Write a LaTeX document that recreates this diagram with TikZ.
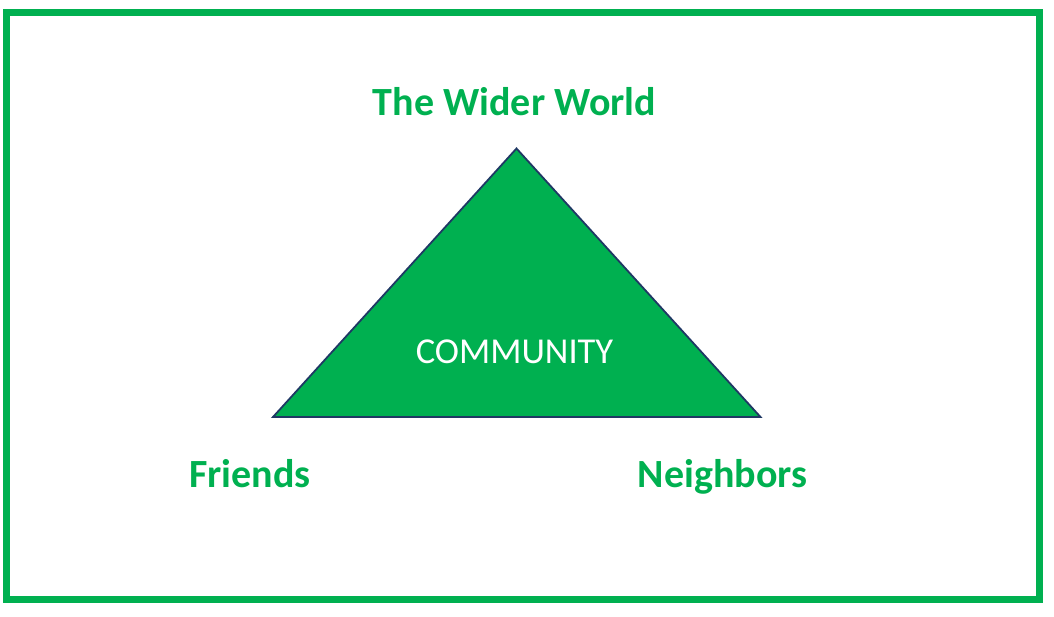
\documentclass[tikz,border=0pt]{standalone}
\usepackage{fontspec}
\setmainfont{Carlito}
\usetikzlibrary{positioning}
\definecolor{leafgreen}{HTML}{00B050}
\definecolor{edgenavy}{HTML}{1F3864}
\begin{document}
\begin{tikzpicture}[x=1pt,y=-1pt]
% --- Layout & Styles --------------------------------------
\tikzstyle{corner label}=[inner sep=0, anchor=base, text=leafgreen, font=\bfseries\fontsize{40}{40}\selectfont]
\tikzstyle{centre label}=[inner sep=0, anchor=base, text=white, font=\fontsize{36.5}{36.5}\selectfont]
\useasboundingbox (0,0) rectangle (1054,616);
\draw [leafgreen, line width=6.5] (6.3,12.3) rectangle (1039.7,599.7);
% --- Triangle ---------------------------------------------
\coordinate (top) at (516.5,148.5);
\coordinate (left) at (273,417);
\coordinate (right) at (760.5,417);
\draw [edgenavy, fill=leafgreen, line width=1.8, line join=miter] (top) -- (left) -- (right) -- cycle;
% --- Node labels ------------------------------------------
\node (community) [centre label] at (514.5,363.5) {COMMUNITY};
\node (world) [corner label] at (514.5,115.5) {The Wider World};
\node (friends) [corner label] at (250,487) {Friends};
\node (neighbors) [corner label] at (722.5,487) {Neighbors};
\end{tikzpicture}
\end{document}
